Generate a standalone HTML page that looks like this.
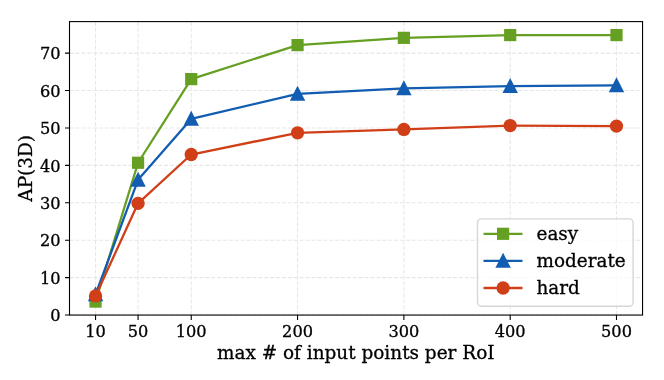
<!DOCTYPE html>
<html><head><meta charset="utf-8"><title>AP(3D) vs max # of input points per RoI</title>
<style>html,body{margin:0;padding:0;background:#fff;}body{width:664px;height:380px;overflow:hidden;}</style>
</head><body>
<svg width="664" height="380" viewBox="0 0 664 380" style="display:block">
<rect width="664" height="380" fill="#fff"/>
<path d="M95.55 315.05 V21.6 M138.07 315.05 V21.6 M191.23 315.05 V21.6 M297.55 315.05 V21.6 M403.87 315.05 V21.6 M510.19 315.05 V21.6 M616.50 315.05 V21.6 M69.5 315.05 H642.55 M69.5 277.63 H642.55 M69.5 240.21 H642.55 M69.5 202.79 H642.55 M69.5 165.37 H642.55 M69.5 127.95 H642.55 M69.5 90.53 H642.55 M69.5 53.11 H642.55" stroke="#b0b0b0" stroke-opacity="0.3" stroke-width="1.1" stroke-dasharray="4.1 1.8" fill="none"/>
<clipPath id="c"><rect x="69.5" y="21.6" width="573.05" height="293.45"/></clipPath>
<g clip-path="url(#c)">
<polyline points="95.55,301.58 138.07,162.75 191.23,79.12 297.55,45.10 403.87,37.84 510.19,35.07 616.50,35.07" fill="none" stroke="#66a023" stroke-width="2.3" stroke-linejoin="round" stroke-linecap="butt"/><rect x="89.45" y="295.48" width="12.2" height="12.2" fill="#66a023"/><rect x="131.97" y="156.65" width="12.2" height="12.2" fill="#66a023"/><rect x="185.13" y="73.02" width="12.2" height="12.2" fill="#66a023"/><rect x="291.45" y="39.00" width="12.2" height="12.2" fill="#66a023"/><rect x="397.77" y="31.74" width="12.2" height="12.2" fill="#66a023"/><rect x="504.09" y="28.97" width="12.2" height="12.2" fill="#66a023"/><rect x="610.40" y="28.97" width="12.2" height="12.2" fill="#66a023"/>
<polyline points="95.55,294.47 138.07,179.78 191.23,118.97 297.55,93.78 403.87,88.28 510.19,86.22 616.50,85.29" fill="none" stroke="#125cb2" stroke-width="2.3" stroke-linejoin="round" stroke-linecap="butt"/><path d="M95.55 286.34 L87.85 301.34 L103.25 301.34 Z" fill="#125cb2"/><path d="M138.07 171.65 L130.38 186.65 L145.77 186.65 Z" fill="#125cb2"/><path d="M191.23 110.84 L183.53 125.84 L198.93 125.84 Z" fill="#125cb2"/><path d="M297.55 85.65 L289.85 100.65 L305.25 100.65 Z" fill="#125cb2"/><path d="M403.87 80.15 L396.17 95.15 L411.57 95.15 Z" fill="#125cb2"/><path d="M510.19 78.10 L502.49 93.09 L517.88 93.09 Z" fill="#125cb2"/><path d="M616.50 77.16 L608.80 92.16 L624.20 92.16 Z" fill="#125cb2"/>
<polyline points="95.55,295.97 138.07,203.35 191.23,154.52 297.55,132.81 403.87,129.45 510.19,125.55 616.50,126.08" fill="none" stroke="#d03f17" stroke-width="2.3" stroke-linejoin="round" stroke-linecap="butt"/><circle cx="95.55" cy="295.97" r="6.65" fill="#d03f17"/><circle cx="138.07" cy="203.35" r="6.65" fill="#d03f17"/><circle cx="191.23" cy="154.52" r="6.65" fill="#d03f17"/><circle cx="297.55" cy="132.81" r="6.65" fill="#d03f17"/><circle cx="403.87" cy="129.45" r="6.65" fill="#d03f17"/><circle cx="510.19" cy="125.55" r="6.65" fill="#d03f17"/><circle cx="616.50" cy="126.08" r="6.65" fill="#d03f17"/>
</g>
<rect x="69.5" y="21.6" width="573.05" height="293.45" fill="none" stroke="#000" stroke-width="1.1"/>
<path d="M95.55 315.05 v5.0 M138.07 315.05 v5.0 M191.23 315.05 v5.0 M297.55 315.05 v5.0 M403.87 315.05 v5.0 M510.19 315.05 v5.0 M616.50 315.05 v5.0 M69.5 315.05 h-4.5 M69.5 277.63 h-4.5 M69.5 240.21 h-4.5 M69.5 202.79 h-4.5 M69.5 165.37 h-4.5 M69.5 127.95 h-4.5 M69.5 90.53 h-4.5 M69.5 53.11 h-4.5" stroke="#000" stroke-width="1.1" fill="none"/>
<g font-family='"DejaVu Serif", "Liberation Serif", serif' font-size="16.2" fill="#000" stroke="#000" stroke-width="0.3">
<text x="95.55" y="337.25" text-anchor="middle">10</text>
<text x="138.07" y="337.25" text-anchor="middle">50</text>
<text x="191.23" y="337.25" text-anchor="middle">100</text>
<text x="297.55" y="337.25" text-anchor="middle">200</text>
<text x="403.87" y="337.25" text-anchor="middle">300</text>
<text x="510.19" y="337.25" text-anchor="middle">400</text>
<text x="616.50" y="337.25" text-anchor="middle">500</text>
<text x="60.50" y="321.25" text-anchor="end">0</text>
<text x="60.50" y="283.83" text-anchor="end">10</text>
<text x="60.50" y="246.41" text-anchor="end">20</text>
<text x="60.50" y="208.99" text-anchor="end">30</text>
<text x="60.50" y="171.57" text-anchor="end">40</text>
<text x="60.50" y="134.15" text-anchor="end">50</text>
<text x="60.50" y="96.73" text-anchor="end">60</text>
<text x="60.50" y="59.31" text-anchor="end">70</text>
</g>
<text x="355.72" y="359.3" text-anchor="middle" font-family='"DejaVu Serif", "Liberation Serif", serif' font-size="18.45" fill="#000" stroke="#000" stroke-width="0.3">max # of input points per RoI</text>
<text transform="translate(32 168.33) rotate(-90)" text-anchor="middle" font-family='"DejaVu Serif", "Liberation Serif", serif' font-size="18.45" fill="#000" stroke="#000" stroke-width="0.3">AP(3D)</text>
<rect x="477.5" y="218.9" width="155.60000000000002" height="87.29999999999998" rx="3.9" fill="#fff" fill-opacity="0.8" stroke="#ccc" stroke-opacity="0.8" stroke-width="1.4"/>
<path d="M483.5 233.8 H522.5" stroke="#66a023" stroke-width="2.3" fill="none"/>
<rect x="497.00" y="227.70" width="12.2" height="12.2" fill="#66a023"/>
<text x="536.5" y="240.00" font-family='"DejaVu Serif", "Liberation Serif", serif' font-size="18.4" fill="#000" stroke="#000" stroke-width="0.3">easy</text>
<path d="M483.5 260.9 H522.5" stroke="#125cb2" stroke-width="2.3" fill="none"/>
<path d="M503.10 252.77 L495.40 267.77 L510.80 267.77 Z" fill="#125cb2"/>
<text x="536.5" y="267.10" font-family='"DejaVu Serif", "Liberation Serif", serif' font-size="18.4" fill="#000" stroke="#000" stroke-width="0.3">moderate</text>
<path d="M483.5 288.0 H522.5" stroke="#d03f17" stroke-width="2.3" fill="none"/>
<circle cx="503.10" cy="288.00" r="6.65" fill="#d03f17"/>
<text x="536.5" y="294.20" font-family='"DejaVu Serif", "Liberation Serif", serif' font-size="18.4" fill="#000" stroke="#000" stroke-width="0.3">hard</text>
</svg>
</body></html>
